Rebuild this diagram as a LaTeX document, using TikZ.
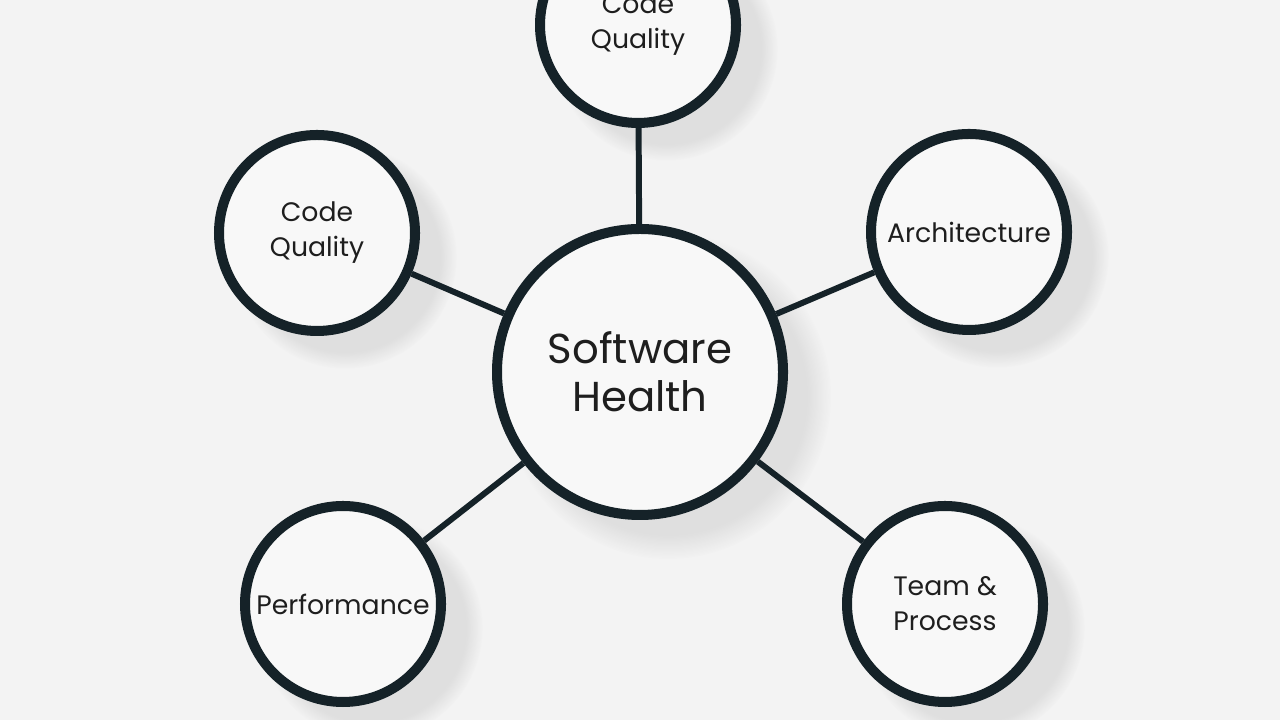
\documentclass[tikz,border=0pt]{standalone}
\usepackage{fontspec}
\setmainfont{Poppins}
\usepackage{tikz}
\usetikzlibrary{shadows}

\definecolor{bgcol}{HTML}{F3F3F3}
\definecolor{ringcol}{HTML}{152228}
\definecolor{fillcol}{HTML}{F8F8F8}
\definecolor{txtcol}{HTML}{1E1E1E}

\begin{document}
\begin{tikzpicture}[
        hub/.style = {circle, draw = ringcol, fill = fillcol, line width = 2.85pt,
            minimum size = 2.86cm, inner sep = 0pt, align = center, text = txtcol,
            font = \fontsize{11.9}{13.7}\selectfont,
            circular drop shadow = {shadow xshift = 7pt, shadow yshift = -6pt,
                shadow scale = 1.14, opacity = 0.17}},
        leaf/.style = {hub, minimum size = 1.96cm, font = \fontsize{7.6}{10}\selectfont},
        spoke/.style = {draw = ringcol, line width = 1.7pt}
    ]
        \fill[color = bgcol] (0,0) rectangle (12.8,7.2);
        \useasboundingbox (0,0) rectangle (12.8,7.2);
        % outer circles
        \node[leaf] (quality-top) at (6.38,6.95) {Code\\Quality};
        \node[leaf] (quality) at (3.17,4.87) {Code\\Quality};
        \node[leaf] (arch) at (9.69,4.88) {Architecture};
        \node[leaf] (perf) at (3.43,1.16) {Performance};
        \node[leaf] (team) at (9.45,1.16) {Team \&\\Process};
        % center
        \node[hub] (health) at (6.40,3.48) {Software\\Health};
        \draw[spoke] (health)--(quality-top);
        \draw[spoke] (health)--(quality);
        \draw[spoke] (health)--(arch);
        \draw[spoke] (health)--(perf);
        \draw[spoke] (health)--(team);
\end{tikzpicture}
\end{document}
